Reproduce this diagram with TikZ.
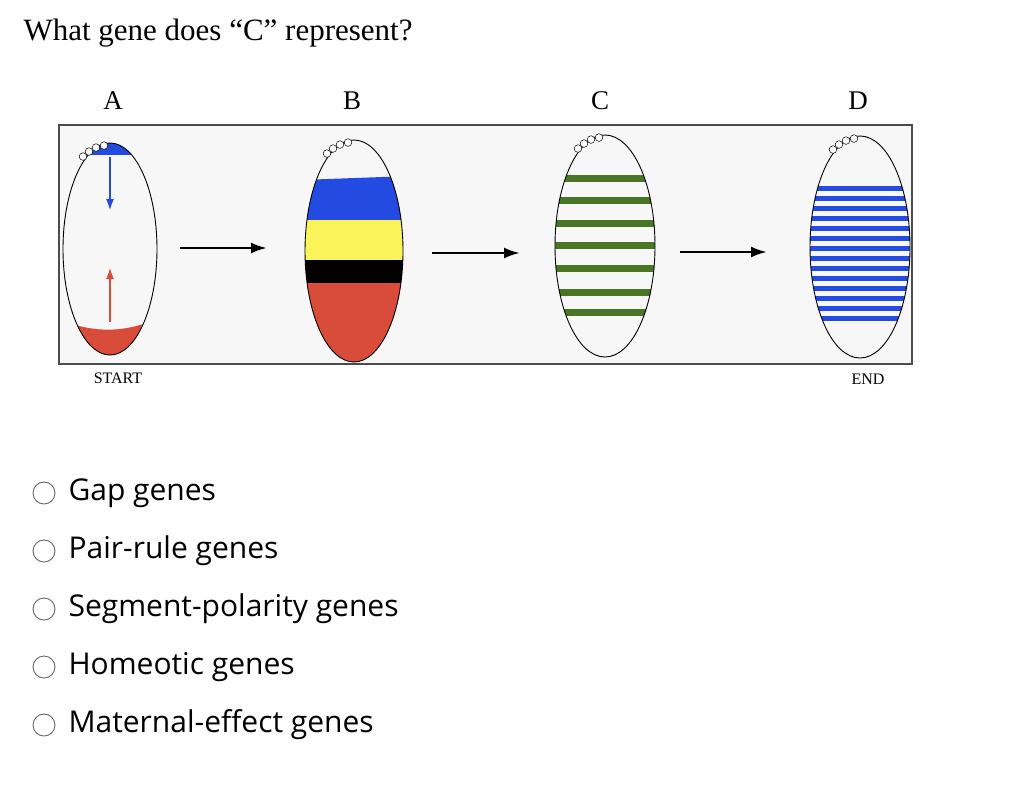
\documentclass[tikz,border=0pt]{standalone}
\usepackage{fontspec}
\usetikzlibrary{shapes.geometric,arrows.meta}
\setmainfont{Liberation Serif}
\newfontfamily\optf{Open Sans}
\definecolor{gred}{RGB}{218,76,58}
\definecolor{gblue}{RGB}{35,75,225}
\definecolor{ggreen}{RGB}{72,118,36}
\definecolor{gyel}{RGB}{250,244,90}
\begin{document}
\begin{tikzpicture}[x=1pt,y=-1pt,
  emb/.style={draw=black,line width=0.9pt},
  flow/.style={-{Latex[length=16pt,width=11pt]},line width=2.6pt},
  opt/.style={anchor=west,font=\optf\fontsize{30}{32}\selectfont},
  radio/.style={circle,draw=black!60,line width=0.9pt,minimum size=22pt,inner sep=0pt},
  lab/.style={font=\fontsize{27}{28}\selectfont},
  small/.style={font=\fontsize{16}{17}\selectfont},
  pole/.style={fill=white,draw=black,line width=0.5pt}]
\useasboundingbox (0,0) rectangle (1030,788);
\node[anchor=west,font=\fontsize{31}{33}\selectfont] (title) at (20,33) {What gene does “C” represent?};
\draw[fill=black!3,draw=black!70,line width=1.5pt] (59,125) rectangle (912,364);
% A
\begin{scope}
\clip (110,249) ellipse (47 and 106);
\fill[gblue] (50,140) rectangle (170,155);
\fill[gred] (50,315) .. controls (90,335) and (130,335) .. (170,312) -- (170,360) -- (50,360) -- cycle;
\end{scope}
\node[emb,ellipse,minimum width=94pt,minimum height=212pt,inner sep=0pt] (ea) at (110,249) {};
\draw[-{Latex[length=11pt,width=8pt]},gblue,line width=1.2pt] (110,157) -- (110,210);
\draw[-{Latex[length=11pt,width=8pt]},gred,line width=1.2pt] (110,322) -- (110,268);
% B
\begin{scope}
\clip (354,251) ellipse (49 and 111);
\fill[gblue] (300,180) -- (410,176) -- (410,220) -- (300,220) -- cycle;
\fill[gyel] (300,220) rectangle (410,260);
\fill[black] (300,260) rectangle (410,283);
\fill[gred] (300,283) rectangle (410,365);
\end{scope}
\node[emb,ellipse,minimum width=98pt,minimum height=222pt,inner sep=0pt] (eb) at (354,251) {};
% C
\begin{scope}
\clip (605,246) ellipse (50 and 111);
\foreach \y in {178,200,223,245,268,292,312} \fill[ggreen] (550,\y-3.5) rectangle (660,\y+3.5);
\end{scope}
\node[emb,ellipse,minimum width=100pt,minimum height=222pt,inner sep=0pt] (ec) at (605,246) {};
% D
\begin{scope}
\clip (860,247) ellipse (50 and 111);
\foreach \i in {0,...,13} \fill[gblue] (805,188+\i*10-2.5) rectangle (915,188+\i*10+2.5);
\end{scope}
\node[emb,ellipse,minimum width=100pt,minimum height=222pt,inner sep=0pt] (ed) at (860,247) {};
% pole cells
\foreach \c in {ea,eb,ec,ed}{
  \foreach \dx/\dy in {-27/-14,-21/-9,-14/-5,-6/-3}
    \draw[pole] ([xshift=\dx pt,yshift=\dy pt]\c.north) circle (3.8);
}
% flow arrows
\coordinate (a1) at (180,248); \coordinate (a2) at (267,248);
\coordinate (b1) at (432,253); \coordinate (b2) at (520,253);
\coordinate (c1) at (680,252); \coordinate (c2) at (767,252);
\draw[flow] (a1) -- (a2);
\draw[flow] (b1) -- (b2);
\draw[flow] (c1) -- (c2);
% labels
\node[lab] (la) at (113,101) {A};
\node[lab] (lb) at (352,101) {B};
\node[lab] (lc) at (600,101) {C};
\node[lab] (ld) at (858,101) {D};
\node[small] (start) at (118,378) {START};
\node[small] (end) at (868,379) {END};
% options
\foreach \y/\t [count=\k] in {493/Gap genes,551/Pair-rule genes,609/Segment-polarity genes,667/Homeotic genes,725/Maternal-effect genes}{
  \node[radio] (r\k) at (44,\y) {};
  \node[opt] (o\k) at (65,\y) {\t};
}
\end{tikzpicture}
\end{document}
